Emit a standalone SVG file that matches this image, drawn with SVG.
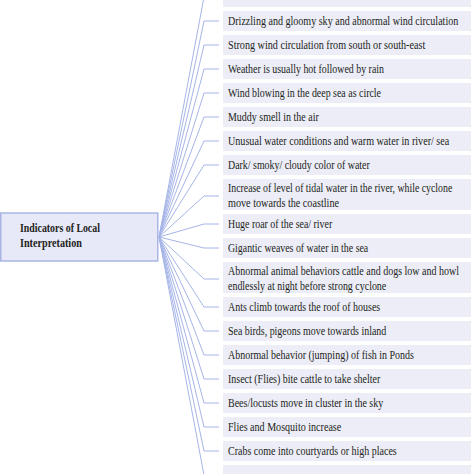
<svg xmlns="http://www.w3.org/2000/svg" width="474" height="474" viewBox="0 0 474 474">
<style>
.bg{fill:#ffffff}
.item{fill:#ecedf7}
.root{fill:#e7e9f8;stroke:#a9b6e4;stroke-width:1.5}
.t{font-family:"Liberation Serif","DejaVu Serif",serif;font-size:13.5px;fill:#231f20}
.t2{font-family:"Liberation Serif","DejaVu Serif",serif;font-size:12.5px;fill:#231f20}
.rt{font-family:"Liberation Serif","DejaVu Serif",serif;font-size:13.5px;font-weight:bold;fill:#231f20}
.c{fill:none;stroke:#a6b5e8;stroke-width:1;stroke-linejoin:round}
</style>
<rect class="bg" x="0" y="0" width="474" height="474"/>
<g id="connectors">
<path class="c" d="M159 237 L204 -3 L219 -3"/>
<path class="c" d="M159 237 L204 21 L219 21"/>
<path class="c" d="M159 237 L204 45 L219 45"/>
<path class="c" d="M159 237 L204 69 L219 69"/>
<path class="c" d="M159 237 L204 93 L219 93"/>
<path class="c" d="M159 237 L204 117 L219 117"/>
<path class="c" d="M159 237 L204 141 L219 141"/>
<path class="c" d="M159 237 L204 165 L219 165"/>
<path class="c" d="M159 237 L204 196 L219 196"/>
<path class="c" d="M159 237 L204 224 L219 224"/>
<path class="c" d="M159 237 L204 248 L219 248"/>
<path class="c" d="M159 237 L204 279 L219 279"/>
<path class="c" d="M159 237 L204 307 L219 307"/>
<path class="c" d="M159 237 L204 331 L219 331"/>
<path class="c" d="M159 237 L204 355 L219 355"/>
<path class="c" d="M159 237 L204 379 L219 379"/>
<path class="c" d="M159 237 L204 403 L219 403"/>
<path class="c" d="M159 237 L204 427 L219 427"/>
<path class="c" d="M159 237 L204 451 L219 451"/>
<path class="c" d="M159 237 L204 475 L219 475"/>
</g>
<g id="root">
<rect class="root" x="0.75" y="213" width="157" height="48"/>
<g transform="translate(20,0) scale(0.72,1)">
<text class="rt" x="0" y="232" textLength="111" lengthAdjust="spacingAndGlyphs">Indicators of Local</text>
<text class="rt" x="0" y="247" textLength="86" lengthAdjust="spacingAndGlyphs">Interpretation</text>
</g>
</g>
<g id="boxes">
<g id="n0"><rect class="item" x="223" y="-13" width="248" height="20"/></g>
<g id="n1"><rect class="item" x="223" y="11" width="248" height="20"/></g>
<g id="n2"><rect class="item" x="223" y="35" width="248" height="20"/></g>
<g id="n3"><rect class="item" x="223" y="59" width="248" height="20"/></g>
<g id="n4"><rect class="item" x="223" y="83" width="248" height="20"/></g>
<g id="n5"><rect class="item" x="223" y="107" width="248" height="20"/></g>
<g id="n6"><rect class="item" x="223" y="131" width="248" height="20"/></g>
<g id="n7"><rect class="item" x="223" y="155" width="248" height="20"/></g>
<g id="n8"><rect class="item" x="223" y="179" width="248" height="31"/></g>
<g id="n9"><rect class="item" x="223" y="214" width="248" height="20"/></g>
<g id="n10"><rect class="item" x="223" y="238" width="248" height="20"/></g>
<g id="n11"><rect class="item" x="223" y="262" width="248" height="31"/></g>
<g id="n12"><rect class="item" x="223" y="297" width="248" height="20"/></g>
<g id="n13"><rect class="item" x="223" y="321" width="248" height="20"/></g>
<g id="n14"><rect class="item" x="223" y="345" width="248" height="20"/></g>
<g id="n15"><rect class="item" x="223" y="369" width="248" height="20"/></g>
<g id="n16"><rect class="item" x="223" y="393" width="248" height="20"/></g>
<g id="n17"><rect class="item" x="223" y="417" width="248" height="20"/></g>
<g id="n18"><rect class="item" x="223" y="441" width="248" height="20"/></g>
<g id="n19"><rect class="item" x="223" y="465" width="248" height="20"/></g>
</g>
<g id="labels" transform="translate(228,0) scale(0.75,1)">
<text class="t" x="0" y="25.5" textLength="307" lengthAdjust="spacingAndGlyphs">Drizzling and gloomy sky and abnormal wind circulation</text>
<text class="t" x="0" y="49.5" textLength="263" lengthAdjust="spacingAndGlyphs">Strong wind circulation from south or south-east</text>
<text class="t" x="0" y="73.5" textLength="208" lengthAdjust="spacingAndGlyphs">Weather is usually hot followed by rain</text>
<text class="t" x="0" y="97.5" textLength="204" lengthAdjust="spacingAndGlyphs">Wind blowing in the deep sea as circle</text>
<text class="t" x="0" y="121.5" textLength="121" lengthAdjust="spacingAndGlyphs">Muddy smell in the air</text>
<text class="t" x="0" y="145.5" textLength="295" lengthAdjust="spacingAndGlyphs">Unusual water conditions and warm water in river/ sea</text>
<text class="t" x="0" y="169.5" textLength="189" lengthAdjust="spacingAndGlyphs">Dark/ smoky/ cloudy color of water</text>
<text class="t2" x="0" y="192.5" textLength="299" lengthAdjust="spacingAndGlyphs">Increase of level of tidal water in the river, while cyclone</text>
<text class="t2" x="0" y="207" textLength="148" lengthAdjust="spacingAndGlyphs">move towards the coastline</text>
<text class="t" x="0" y="228.5" textLength="139" lengthAdjust="spacingAndGlyphs">Huge roar of the sea/ river</text>
<text class="t" x="0" y="252.5" textLength="187" lengthAdjust="spacingAndGlyphs">Gigantic weaves of water in the sea</text>
<text class="t2" x="0" y="275.5" textLength="308" lengthAdjust="spacingAndGlyphs">Abnormal animal behaviors cattle and dogs low and howl</text>
<text class="t2" x="0" y="290" textLength="211" lengthAdjust="spacingAndGlyphs">endlessly at night before strong cyclone</text>
<text class="t" x="0" y="311.5" textLength="203" lengthAdjust="spacingAndGlyphs">Ants climb towards the roof of houses</text>
<text class="t" x="0" y="335.5" textLength="211" lengthAdjust="spacingAndGlyphs">Sea birds, pigeons move towards inland</text>
<text class="t" x="0" y="359.5" textLength="248" lengthAdjust="spacingAndGlyphs">Abnormal behavior (jumping) of fish in Ponds</text>
<text class="t" x="0" y="383.5" textLength="203" lengthAdjust="spacingAndGlyphs">Insect (Flies) bite cattle to take shelter</text>
<text class="t" x="0" y="407.5" textLength="207" lengthAdjust="spacingAndGlyphs">Bees/locusts move in cluster in the sky</text>
<text class="t" x="0" y="431.5" textLength="151" lengthAdjust="spacingAndGlyphs">Flies and Mosquito increase</text>
<text class="t" x="0" y="455.5" textLength="225" lengthAdjust="spacingAndGlyphs">Crabs come into courtyards or high places</text>
</g>
</svg>
